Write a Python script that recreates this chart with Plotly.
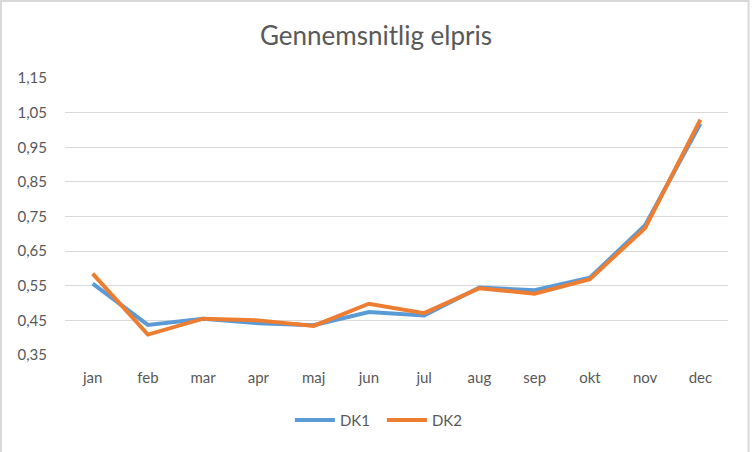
import plotly.graph_objects as go

# data
months = ["jan", "feb", "mar", "apr", "maj", "jun", "jul", "aug", "sep", "okt", "nov", "dec"]
dk1 = [0.556, 0.437, 0.455, 0.442, 0.436, 0.474, 0.464, 0.545, 0.537, 0.573, 0.725, 1.018]
dk2 = [0.585, 0.409, 0.455, 0.450, 0.434, 0.498, 0.471, 0.543, 0.527, 0.569, 0.717, 1.030]
y_ticks = [0.35, 0.45, 0.55, 0.65, 0.75, 0.85, 0.95, 1.05, 1.15]
y_tick_labels = ["0,35", "0,45", "0,55", "0,65", "0,75", "0,85", "0,95", "1,05", "1,15"]

font_family = "Lato, 'Open Sans', sans-serif"
text_color = "#595959"

fig = go.Figure()

fig.add_trace(go.Scatter(
    x=months,
    y=dk1,
    name="DK1",
    mode="lines",
    line=dict(color="#5B9BD5", width=4),
))

fig.add_trace(go.Scatter(
    x=months,
    y=dk2,
    name="DK2",
    mode="lines",
    line=dict(color="#ED7D31", width=4),
))

# light grey frame around the whole chart
fig.add_shape(
    type="rect", xref="paper", yref="paper",
    x0=-0.0965, x1=1.031, y0=-0.40, y1=1.278,
    line=dict(color="#D9D9D9", width=2),
    layer="below",
)

fig.update_layout(
    width=752,
    height=452,
    margin=dict(l=65, r=24, t=78, b=97),
    paper_bgcolor="white",
    plot_bgcolor="white",
    font=dict(family=font_family, color=text_color, size=15),
    title=dict(
        text="Gennemsnitlig elpris",
        x=0.5, xanchor="center",
        y=0.921, yanchor="middle",
        font=dict(size=26, color=text_color, family=font_family),
    ),
    showlegend=True,
    legend=dict(
        orientation="h",
        x=0.478, xanchor="center",
        y=-0.236, yanchor="middle",
        font=dict(size=15, color=text_color),
        itemwidth=40,
        entrywidth=37,
    ),
    xaxis=dict(
        type="category",
        range=[-0.5, len(months) - 0.5],
        showgrid=False,
        showline=False,
        zeroline=False,
        ticks="",
        tickfont=dict(size=15, color=text_color),
        ticklabelstandoff=12,
    ),
    yaxis=dict(
        range=[0.35, 1.15],
        tickvals=y_ticks,
        ticktext=y_tick_labels,
        showgrid=True,
        gridcolor="#D9D9D9",
        gridwidth=1,
        zeroline=False,
        showline=False,
        ticks="",
        tickfont=dict(size=15, color=text_color),
        ticklabelstandoff=17,
    ),
)

# page body has a default 8px margin, drop it so the chart sits at the window corner
fig.write_html(
    "out.html",
    config={"displayModeBar": False},
    post_script="document.body.style.margin = '0';",
)
